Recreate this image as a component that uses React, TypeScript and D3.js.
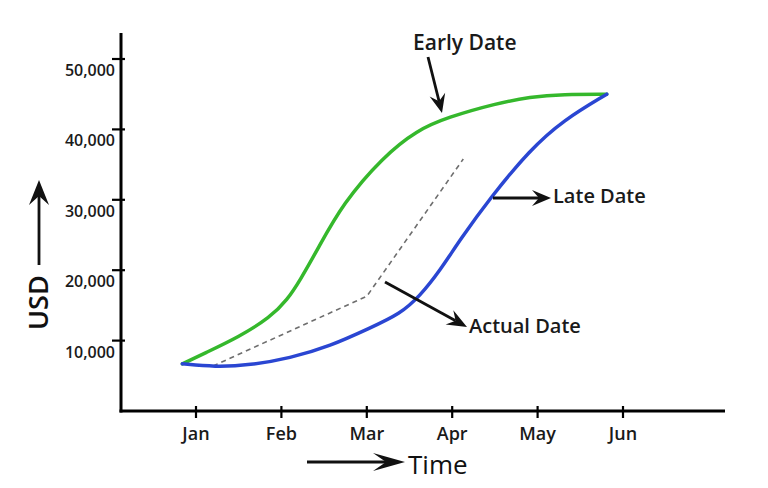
import React, { useEffect, useRef } from "react";
import * as d3 from "d3";

// Cost curves (month index, USD)
const months = ["Jan", "Feb", "Mar", "Apr", "May", "Jun"];
const usdTicks = [10000, 20000, 30000, 40000, 50000];

const earlyDate: [number, number][] = [
  [-0.16, 6700], [0.1, 8200], [0.5, 10500], [0.87, 13300], [1.07, 15800],
  [1.22, 18600], [1.42, 22900], [1.72, 29500], [2.19, 36100], [2.59, 39900],
  [2.94, 41700], [3.52, 43700], [3.91, 44600], [4.3, 45000], [4.81, 45000],
];

const lateDate: [number, number][] = [
  [-0.16, 6700], [0.22, 6250], [0.63, 6500], [1.1, 7500], [1.57, 9200],
  [2.04, 11800], [2.39, 13800], [2.62, 16300], [2.86, 20000], [3.09, 24300],
  [3.44, 30200], [3.91, 37100], [4.3, 41300], [4.81, 45000],
];

const actualDate: [number, number][] = [
  [0.2, 6400], [2.0, 16300], [3.13, 35800],
];

const WIDTH = 768;
const HEIGHT = 488;
const FONT = "'Open Sans', 'DejaVu Sans', sans-serif";

// stealth-style arrowhead pointing along (dx, dy), tip at (x, y)
function arrowHead(x: number, y: number, dx: number, dy: number, len: number, half: number, notch: number) {
  const a = Math.atan2(dy, dx);
  const p = (u: number, v: number) => {
    const px = x + u * Math.cos(a) - v * Math.sin(a);
    const py = y + u * Math.sin(a) + v * Math.cos(a);
    return `${px},${py}`;
  };
  return `M${p(0, 0)}L${p(-len, -half)}L${p(-len + notch, 0)}L${p(-len, half)}Z`;
}

export default function App() {
  const svgRef = useRef<SVGSVGElement>(null);

  useEffect(() => {
    if (!svgRef.current) return;
    const svg = d3.select(svgRef.current);
    svg.selectAll("*").remove();

    const x = d3.scaleLinear().domain([0, 5]).range([196, 623]);
    const y = d3.scaleLinear().domain([0, 50000]).range([411, 59]);

    const axisX0 = 121;
    const axisY0 = y(0);

    // axes
    svg.append("line")
      .attr("x1", axisX0).attr("x2", axisX0)
      .attr("y1", 33).attr("y2", axisY0 + 1.5)
      .attr("stroke", "#000").attr("stroke-width", 3);
    svg.append("line")
      .attr("x1", axisX0 - 1.5).attr("x2", 725)
      .attr("y1", axisY0).attr("y2", axisY0)
      .attr("stroke", "#000").attr("stroke-width", 3);

    // y ticks + labels
    usdTicks.forEach((v) => {
      svg.append("line")
        .attr("x1", axisX0 - 9).attr("x2", axisX0 + 4)
        .attr("y1", y(v)).attr("y2", y(v))
        .attr("stroke", "#000").attr("stroke-width", 2.2);
      svg.append("text")
        .attr("x", 115)
        .attr("y", y(v) + 17)
        .attr("text-anchor", "end")
        .attr("font-family", FONT)
        .attr("font-weight", 600)
        .attr("font-size", "16px")
        .attr("fill", "#1a1a1a")
        .text(d3.format(",")(v));
    });

    // x ticks + labels
    months.forEach((m, i) => {
      svg.append("line")
        .attr("x1", x(i)).attr("x2", x(i))
        .attr("y1", axisY0 - 5).attr("y2", axisY0 + 7)
        .attr("stroke", "#000").attr("stroke-width", 2.2);
      svg.append("text")
        .attr("x", x(i))
        .attr("y", 440)
        .attr("text-anchor", "middle")
        .attr("font-family", FONT)
        .attr("font-weight", 600)
        .attr("font-size", "18px")
        .attr("fill", "#1a1a1a")
        .text(m);
    });

    // curves
    const smooth = d3.line<[number, number]>()
      .x((d) => x(d[0]))
      .y((d) => y(d[1]))
      .curve(d3.curveBasis);
    const straight = d3.line<[number, number]>()
      .x((d) => x(d[0]))
      .y((d) => y(d[1]));

    svg.append("path")
      .attr("d", straight(actualDate) as string)
      .attr("fill", "none")
      .attr("stroke", "#6e6e6e")
      .attr("stroke-width", 1.6)
      .attr("stroke-dasharray", "5,4");

    svg.append("path")
      .attr("d", smooth(earlyDate) as string)
      .attr("fill", "none")
      .attr("stroke", "#35b82c")
      .attr("stroke-width", 3.5)
      .attr("stroke-linecap", "round");

    svg.append("path")
      .attr("d", smooth(lateDate) as string)
      .attr("fill", "none")
      .attr("stroke", "#2a46d2")
      .attr("stroke-width", 3.5)
      .attr("stroke-linecap", "round");

    // arrows: [x1, y1, x2 (tip), y2, head length, half width, notch]
    const arrows: [number, number, number, number, number, number, number][] = [
      [428, 57, 442, 113, 19, 8, 7],     // Early Date
      [493, 198, 551, 198, 19, 8, 7],    // Late Date
      [385, 282, 467, 327, 20, 8, 7],    // Actual Date
      [39, 265, 39, 180, 25, 10, 9],     // USD
      [307, 462, 405, 462, 32, 9, 13],   // Time
    ];
    arrows.forEach(([x1, y1, x2, y2, len, half, notch]) => {
      const dx = x2 - x1;
      const dy = y2 - y1;
      const d = Math.hypot(dx, dy);
      const ex = x2 - (dx / d) * (len - notch);
      const ey = y2 - (dy / d) * (len - notch);
      svg.append("line")
        .attr("x1", x1).attr("y1", y1).attr("x2", ex).attr("y2", ey)
        .attr("stroke", "#111").attr("stroke-width", 2.8);
      svg.append("path")
        .attr("d", arrowHead(x2, y2, dx, dy, len, half, notch))
        .attr("fill", "#111");
    });

    // annotation labels
    const labels: [string, number, number, number][] = [
      ["Early Date", 413, 50, 21],
      ["Late Date", 553, 203, 20],
      ["Actual Date", 469, 333, 20],
    ];
    labels.forEach(([t, lx, ly, fs]) => {
      svg.append("text")
        .attr("x", lx).attr("y", ly)
        .attr("font-family", FONT)
        .attr("font-weight", 600)
        .attr("font-size", `${fs}px`)
        .attr("fill", "#1a1a1a")
        .text(t);
    });

    // axis titles
    svg.append("text")
      .attr("x", 408).attr("y", 474)
      .attr("font-family", FONT)
      .attr("font-weight", 500)
      .attr("font-size", "26px")
      .attr("fill", "#111")
      .text("Time");

    svg.append("text")
      .attr("transform", "translate(48,330) rotate(-90)")
      .attr("font-family", FONT)
      .attr("font-weight", 600)
      .attr("font-size", "27px")
      .attr("fill", "#111")
      .text("USD");
  }, []);

  return (
    <svg
      ref={svgRef}
      width={WIDTH}
      height={HEIGHT}
      style={{ position: "absolute", left: 0, top: 0, background: "#fff" }}
    />
  );
}
